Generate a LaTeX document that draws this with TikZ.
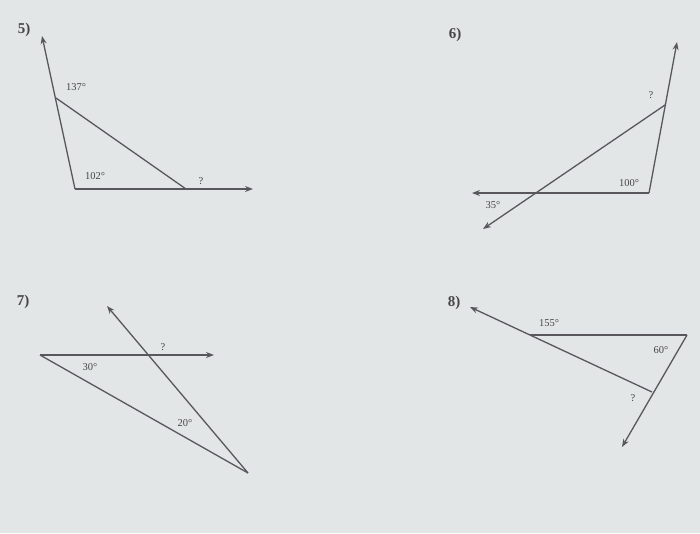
\documentclass[tikz,border=0pt]{standalone}
\usepackage{fontspec}
\setmainfont{Liberation Serif}
\usetikzlibrary{arrows.meta}
\definecolor{paper}{RGB}{226,230,230}
\definecolor{ink}{RGB}{88,88,92}
\definecolor{txt}{RGB}{70,70,72}
\tikzset{
  edge/.style={draw=ink, line width=1.3pt},
  ray/.style={edge, -{Stealth[length=8pt,width=6pt]}},
  lbl/.style={text=txt, font=\fontsize{10.5}{11}\selectfont, inner sep=0pt},
  num/.style={text=txt, font=\fontsize{15}{16}\selectfont\bfseries, inner sep=0pt}
}
\begin{document}
\begin{tikzpicture}[x=1pt,y=-1pt]
\fill[paper] (0,0) rectangle (700,533);
\useasboundingbox (0,0) rectangle (700,533);
% ---------- 5 ----------
\node[num] (n5) at (24,30) {5)};
\coordinate (a5) at (56,98);
\coordinate (b5) at (75,189);
\coordinate (c5) at (186,189);
\coordinate (t5) at (42,36);
\coordinate (e5) at (253,189);
\draw[ray] (b5) -- (t5);
\draw[ray] (b5) -- (e5);
\draw[edge] (a5) -- (c5);
\node[lbl] (l137) at (76,87) {137°};
\node[lbl] (l102) at (95,176) {102°};
\node[lbl] (q5) at (201,181) {?};
% ---------- 6 ----------
\node[num] (n6) at (455,35) {6)};
\coordinate (p6) at (665,105);
\coordinate (q6) at (649,193);
\coordinate (t6) at (677,42);
\coordinate (e6) at (472,193);
\coordinate (f6) at (483,229);
\draw[ray] (q6) -- (t6);
\draw[ray] (q6) -- (e6);
\draw[ray] (p6) -- (f6);
\node[lbl] (q6l) at (651,95) {?};
\node[lbl] (l100) at (629,183) {100°};
\node[lbl] (l35) at (493,205) {35°};
% ---------- 7 ----------
\node[num] (n7) at (23,302) {7)};
\coordinate (l7) at (40,355);
\coordinate (b7) at (248,473);
\coordinate (e7) at (214,355);
\coordinate (t7) at (107,306);
\draw[ray] (l7) -- (e7);
\draw[edge] (l7) -- (b7);
\draw[ray] (b7) -- (t7);
\node[lbl] (q7) at (163,347) {?};
\node[lbl] (l30) at (90,367) {30°};
\node[lbl] (l20) at (185,423) {20°};
% ---------- 8 ----------
\node[num] (n8) at (454,303) {8)};
\coordinate (v1) at (530,335);
\coordinate (v2) at (687,335);
\coordinate (v3) at (652,392);
\coordinate (t8) at (470,307);
\coordinate (f8) at (622,447);
\draw[ray] (v3) -- (t8);
\draw[edge] (v1) -- (v2);
\draw[ray] (v2) -- (f8);
\node[lbl] (l155) at (549,323) {155°};
\node[lbl] (l60) at (661,350) {60°};
\node[lbl] (q8) at (633,398) {?};
\end{tikzpicture}
\end{document}
